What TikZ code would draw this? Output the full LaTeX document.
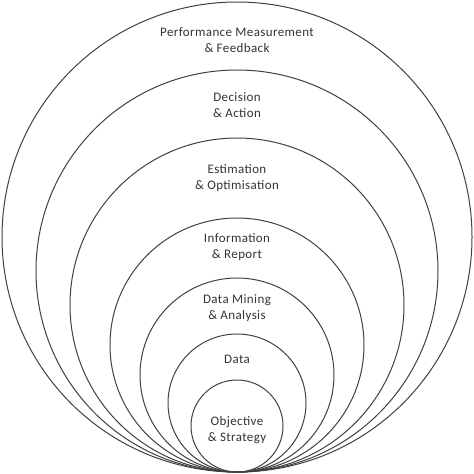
\documentclass[tikz,border=0pt]{standalone}
\usepackage{fontspec}
\setmainfont[LetterSpace=3]{Carlito}
\begin{document}
\begin{tikzpicture}[x=1pt,y=-1pt,
  ring/.style={draw=black!75,line width=1pt,circle,inner sep=0pt,minimum size=#1},
  lbl/.style={text=black!80,align=center,font=\fontsize{13}{16}\selectfont,inner sep=0pt}]
\useasboundingbox (0,0) rectangle (474,474);
\coordinate (base) at (237,472);
\node[ring=470pt] (c1) at (237,237) {};
\node[ring=402pt] (c2) at (237,271) {};
\node[ring=334pt] (c3) at (237,305) {};
\node[ring=254pt] (c4) at (237,345) {};
\node[ring=194pt] (c5) at (237,375) {};
\node[ring=138pt] (c6) at (237,403) {};
\node[ring=92pt] (c7) at (237,426) {};
\node[lbl] (t1) at (237,40) {Performance Measurement\\\& Feedback};
\node[lbl] (t2) at (237,105) {Decision\\\& Action};
\node[lbl] (t3) at (237,178) {Estimation\\\& Optimisation};
\node[lbl] (t4) at (237,247) {Information\\\& Report};
\node[lbl] (t5) at (237,308) {Data Mining\\\& Analysis};
\node[lbl] (t6) at (237,359) {Data};
\node[lbl] (t7) at (237,430) {Objective\\\& Strategy};
\end{tikzpicture}
\end{document}
